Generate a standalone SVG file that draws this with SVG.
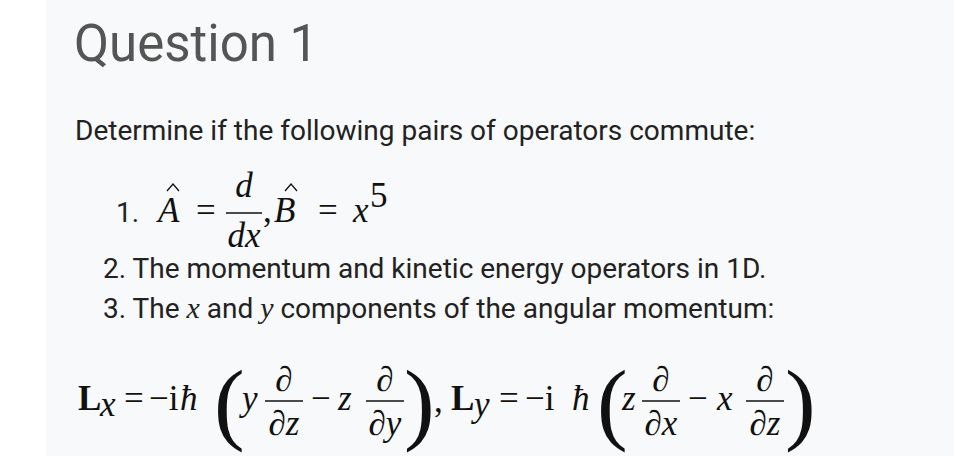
<svg xmlns="http://www.w3.org/2000/svg" width="954" height="456" viewBox="0 0 954 456">
<style>
.t{font-family:Roboto,"Liberation Sans",sans-serif;fill:#222;font-size:28px}
.m{font-family:"Liberation Serif","DejaVu Serif",serif;fill:#111;font-size:35px}
.p{font-family:"Liberation Serif","DejaVu Serif",serif;fill:#111;font-size:92px;font-weight:300}
.h{fill:none;stroke:#111;stroke-width:1.3}
</style>
<rect width="954" height="456" fill="#fff"/>
<rect x="46" y="0" width="908" height="456" fill="#f8f9fa"/>
<g id="title"><text x="74" y="61" font-family="Roboto,'Liberation Sans',sans-serif" font-size="51" fill="#555">Question 1</text></g>
<g id="intro"><text class="t" x="75" y="140">Determine if the following pairs of operators commute:</text></g>
<g id="item1">
<text class="t" x="116" y="222">1.</text>
<text class="m" font-style="italic" x="158" y="222">A</text><polyline class="h" points="167,191 173,184 179,191"/>
<text class="m" x="196" y="222">=</text>
<text class="m" font-style="italic" x="244" y="197" text-anchor="middle">d</text>
<line x1="226" y1="213" x2="262" y2="213" stroke="#111" stroke-width="1.3"/>
<text class="m" font-style="italic" x="244" y="247" text-anchor="middle">dx</text>
<text class="m" x="263" y="222">,</text>
<text class="m" font-style="italic" x="274" y="222">B</text><polyline class="h" points="285,191 291,184 297,191"/>
<text class="m" x="318" y="222">=</text>
<text class="m" font-style="italic" x="353" y="222">x</text><text class="m" x="370" y="207" font-size="22">5</text>
</g>
<g id="item2"><text class="t" x="103" y="278">2. The momentum and kinetic energy operators in 1D.</text></g>
<g id="item3">
<text class="t" x="103" y="318">3. The <tspan font-family="Liberation Serif,serif" font-style="italic" font-size="30">x</tspan> and <tspan font-family="Liberation Serif,serif" font-style="italic" font-size="30">y</tspan> components of the angular momentum:</text>
</g>
<g id="equation">
<text class="m" x="78" y="410" font-weight="bold">L</text><text class="m" font-style="italic" x="100" y="416" font-size="20">x</text>
<text class="m" x="124" y="410">=</text>
<text class="m" x="149" y="410">−i</text>
<text class="m" font-style="italic" x="180" y="410">ħ</text>
<text class="p" x="214" y="433">(</text>
<text class="m" font-style="italic" x="242" y="410">y</text>
<text class="m" font-style="italic" x="284" y="391" text-anchor="middle">∂</text>
<line x1="265" y1="401" x2="303" y2="401" stroke="#111" stroke-width="1.3"/>
<text class="m" font-style="italic" x="284" y="435" text-anchor="middle">∂z</text>
<text class="m" x="311" y="410">−</text>
<text class="m" font-style="italic" x="338" y="410">z</text>
<text class="m" font-style="italic" x="385" y="391" text-anchor="middle">∂</text>
<line x1="366" y1="401" x2="404" y2="401" stroke="#111" stroke-width="1.3"/>
<text class="m" font-style="italic" x="385" y="435" text-anchor="middle">∂y</text>
<text class="p" x="404" y="433">)</text>
<text class="m" x="434" y="412">,</text>
<text class="m" x="451" y="410" font-weight="bold">L</text><text class="m" font-style="italic" x="474" y="416" font-size="20">y</text>
<text class="m" x="499" y="410">=</text>
<text class="m" x="525" y="410">−i</text>
<text class="m" font-style="italic" x="572" y="410">ħ</text>
<text class="p" x="597" y="433">(</text>
<text class="m" font-style="italic" x="622" y="410">z</text>
<text class="m" font-style="italic" x="661" y="391" text-anchor="middle">∂</text>
<line x1="642" y1="401" x2="680" y2="401" stroke="#111" stroke-width="1.3"/>
<text class="m" font-style="italic" x="661" y="435" text-anchor="middle">∂x</text>
<text class="m" x="688" y="410">−</text>
<text class="m" font-style="italic" x="717" y="410">x</text>
<text class="m" font-style="italic" x="765" y="391" text-anchor="middle">∂</text>
<line x1="746" y1="401" x2="784" y2="401" stroke="#111" stroke-width="1.3"/>
<text class="m" font-style="italic" x="765" y="435" text-anchor="middle">∂z</text>
<text class="p" x="785" y="433">)</text>
</g>
</svg>
